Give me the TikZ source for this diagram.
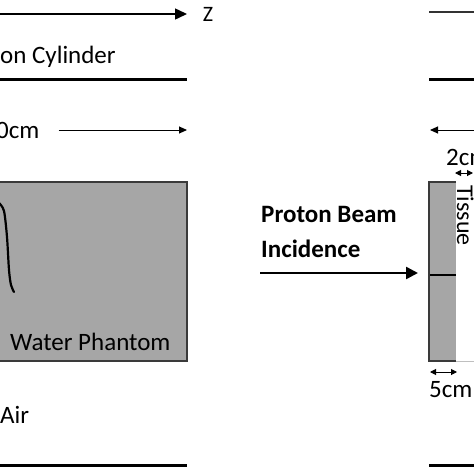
\documentclass[tikz,border=0pt]{standalone}
\usepackage{fontspec}
\setmainfont{Carlito}
\usetikzlibrary{arrows.meta}
\definecolor{phantomgray}{HTML}{A6A6A6}
\definecolor{edgegray}{HTML}{3A3A3A}
\begin{document}
\begin{tikzpicture}[x=1pt,y=-1pt,
    lbl/.style={font=\fontsize{25}{30}\selectfont, inner sep=0pt, anchor=base west},
    boldlbl/.style={lbl, font=\fontsize{25}{30}\selectfont\bfseries},
    block/.style={fill=phantomgray, draw=edgegray, line width=1.3pt},
    wall/.style={line width=3pt},
    thinarrow/.style={line width=1pt, -{Triangle[length=8pt,width=7pt]}},
    spanarrow/.style={line width=1pt, {Triangle[length=6pt,width=6pt]}-{Triangle[length=6pt,width=6pt]}}]
        % Fix the frame
        \useasboundingbox (0,0) rectangle (474,474);
        \clip (0,0) rectangle (474,474);

        % Z axis on top
        \coordinate (zStart) at (-5,14);
        \coordinate (zEnd) at (187,14);
        \draw[line width=1.5pt, -{Triangle[length=12pt,width=11pt]}] (zStart) -- (zEnd);
        \node[font=\fontsize{22}{26}\selectfont, inner sep=0pt] (zLabel) at (208,14.5) {Z};

        % Cylinder wall and label (left)
        \node[lbl] (cylLabel) at (0,63) {on Cylinder};
        \coordinate (wallTopL) at (-5,79);
        \coordinate (wallTopLEnd) at (187,79);
        \draw[wall] (wallTopL) -- (wallTopLEnd);

        % length marker (left)
        \node[lbl] (lenLabel) at (-4,138) {0cm};
        \coordinate (lenEnd) at (187,130);
        \draw[thinarrow] (lenLabel.east |- lenEnd) ++(19,0) -- (lenEnd);

        % Water phantom block with depth dose curve
        \draw[block] (-10,182) rectangle (187,361);
        \draw[line width=2.2pt, line cap=round] plot[smooth] coordinates {(-1,203) (4,211) (7,237) (9,270) (11,285) (14,292)};
        \node[lbl] (phantomLabel) at (10,350) {Water Phantom};

        % Air and lower wall
        \node[lbl] (airLabel) at (0,423) {Air};
        \coordinate (wallBotL) at (-5,465);
        \coordinate (wallBotLEnd) at (187,465);
        \draw[wall] (wallBotL) -- (wallBotLEnd);

        % Beam incidence
        \node[boldlbl] (beamLabel) at (261,222) {Proton Beam};
        \node[boldlbl] (incLabel) at (261,257) {Incidence};
        \coordinate (beamStart) at (260,273);
        \coordinate (beamEnd) at (418,273);
        \draw[line width=2.5pt, -{Triangle[length=12pt,width=12pt]}] (beamStart) -- (beamEnd);

        % Right panel walls
        \coordinate (axisR) at (429,12);
        \coordinate (axisREnd) at (480,12);
        \draw[line width=2pt, draw=black!80] (axisR) -- (axisREnd);
        \coordinate (wallTopR) at (429,79);
        \coordinate (wallTopREnd) at (480,79);
        \draw[wall] (wallTopR) -- (wallTopREnd);
        \coordinate (wallBotR) at (429,465);
        \coordinate (wallBotREnd) at (480,465);
        \draw[wall] (wallBotR) -- (wallBotREnd);

        % length marker (right)
        \coordinate (lenRStart) at (480,130);
        \coordinate (lenREnd) at (430,130);
        \draw[thinarrow] (lenRStart) -- (lenREnd);

        % Slab with tissue layer
        \draw[block] (456,182) -- (429,182) -- (429,361) -- (456,361);
        \fill[phantomgray] (429.7,182.7) rectangle (456,360.3);
        \draw[draw=black!25, line width=1pt] (456,361) -- (480,361);
        \draw[line width=2.2pt] (430,275) -- (456,275);
        \node[font=\fontsize{24}{28}\selectfont, inner sep=0pt, anchor=base west, rotate=-90] (tissueLabel) at (457,185) {Tissue};

        % thickness markers
        \node[lbl] (tissueLen) at (446,165) {2cm};
        \coordinate (tisA) at (455,173);
        \coordinate (tisB) at (473,173);
        \draw[spanarrow] (tisA) -- (tisB);
        \coordinate (slabA) at (430,372);
        \coordinate (slabB) at (457,372);
        \draw[spanarrow] (slabA) -- (slabB);
        \node[lbl] (slabLen) at (429,397) {5cm};
    \end{tikzpicture}
\end{document}
